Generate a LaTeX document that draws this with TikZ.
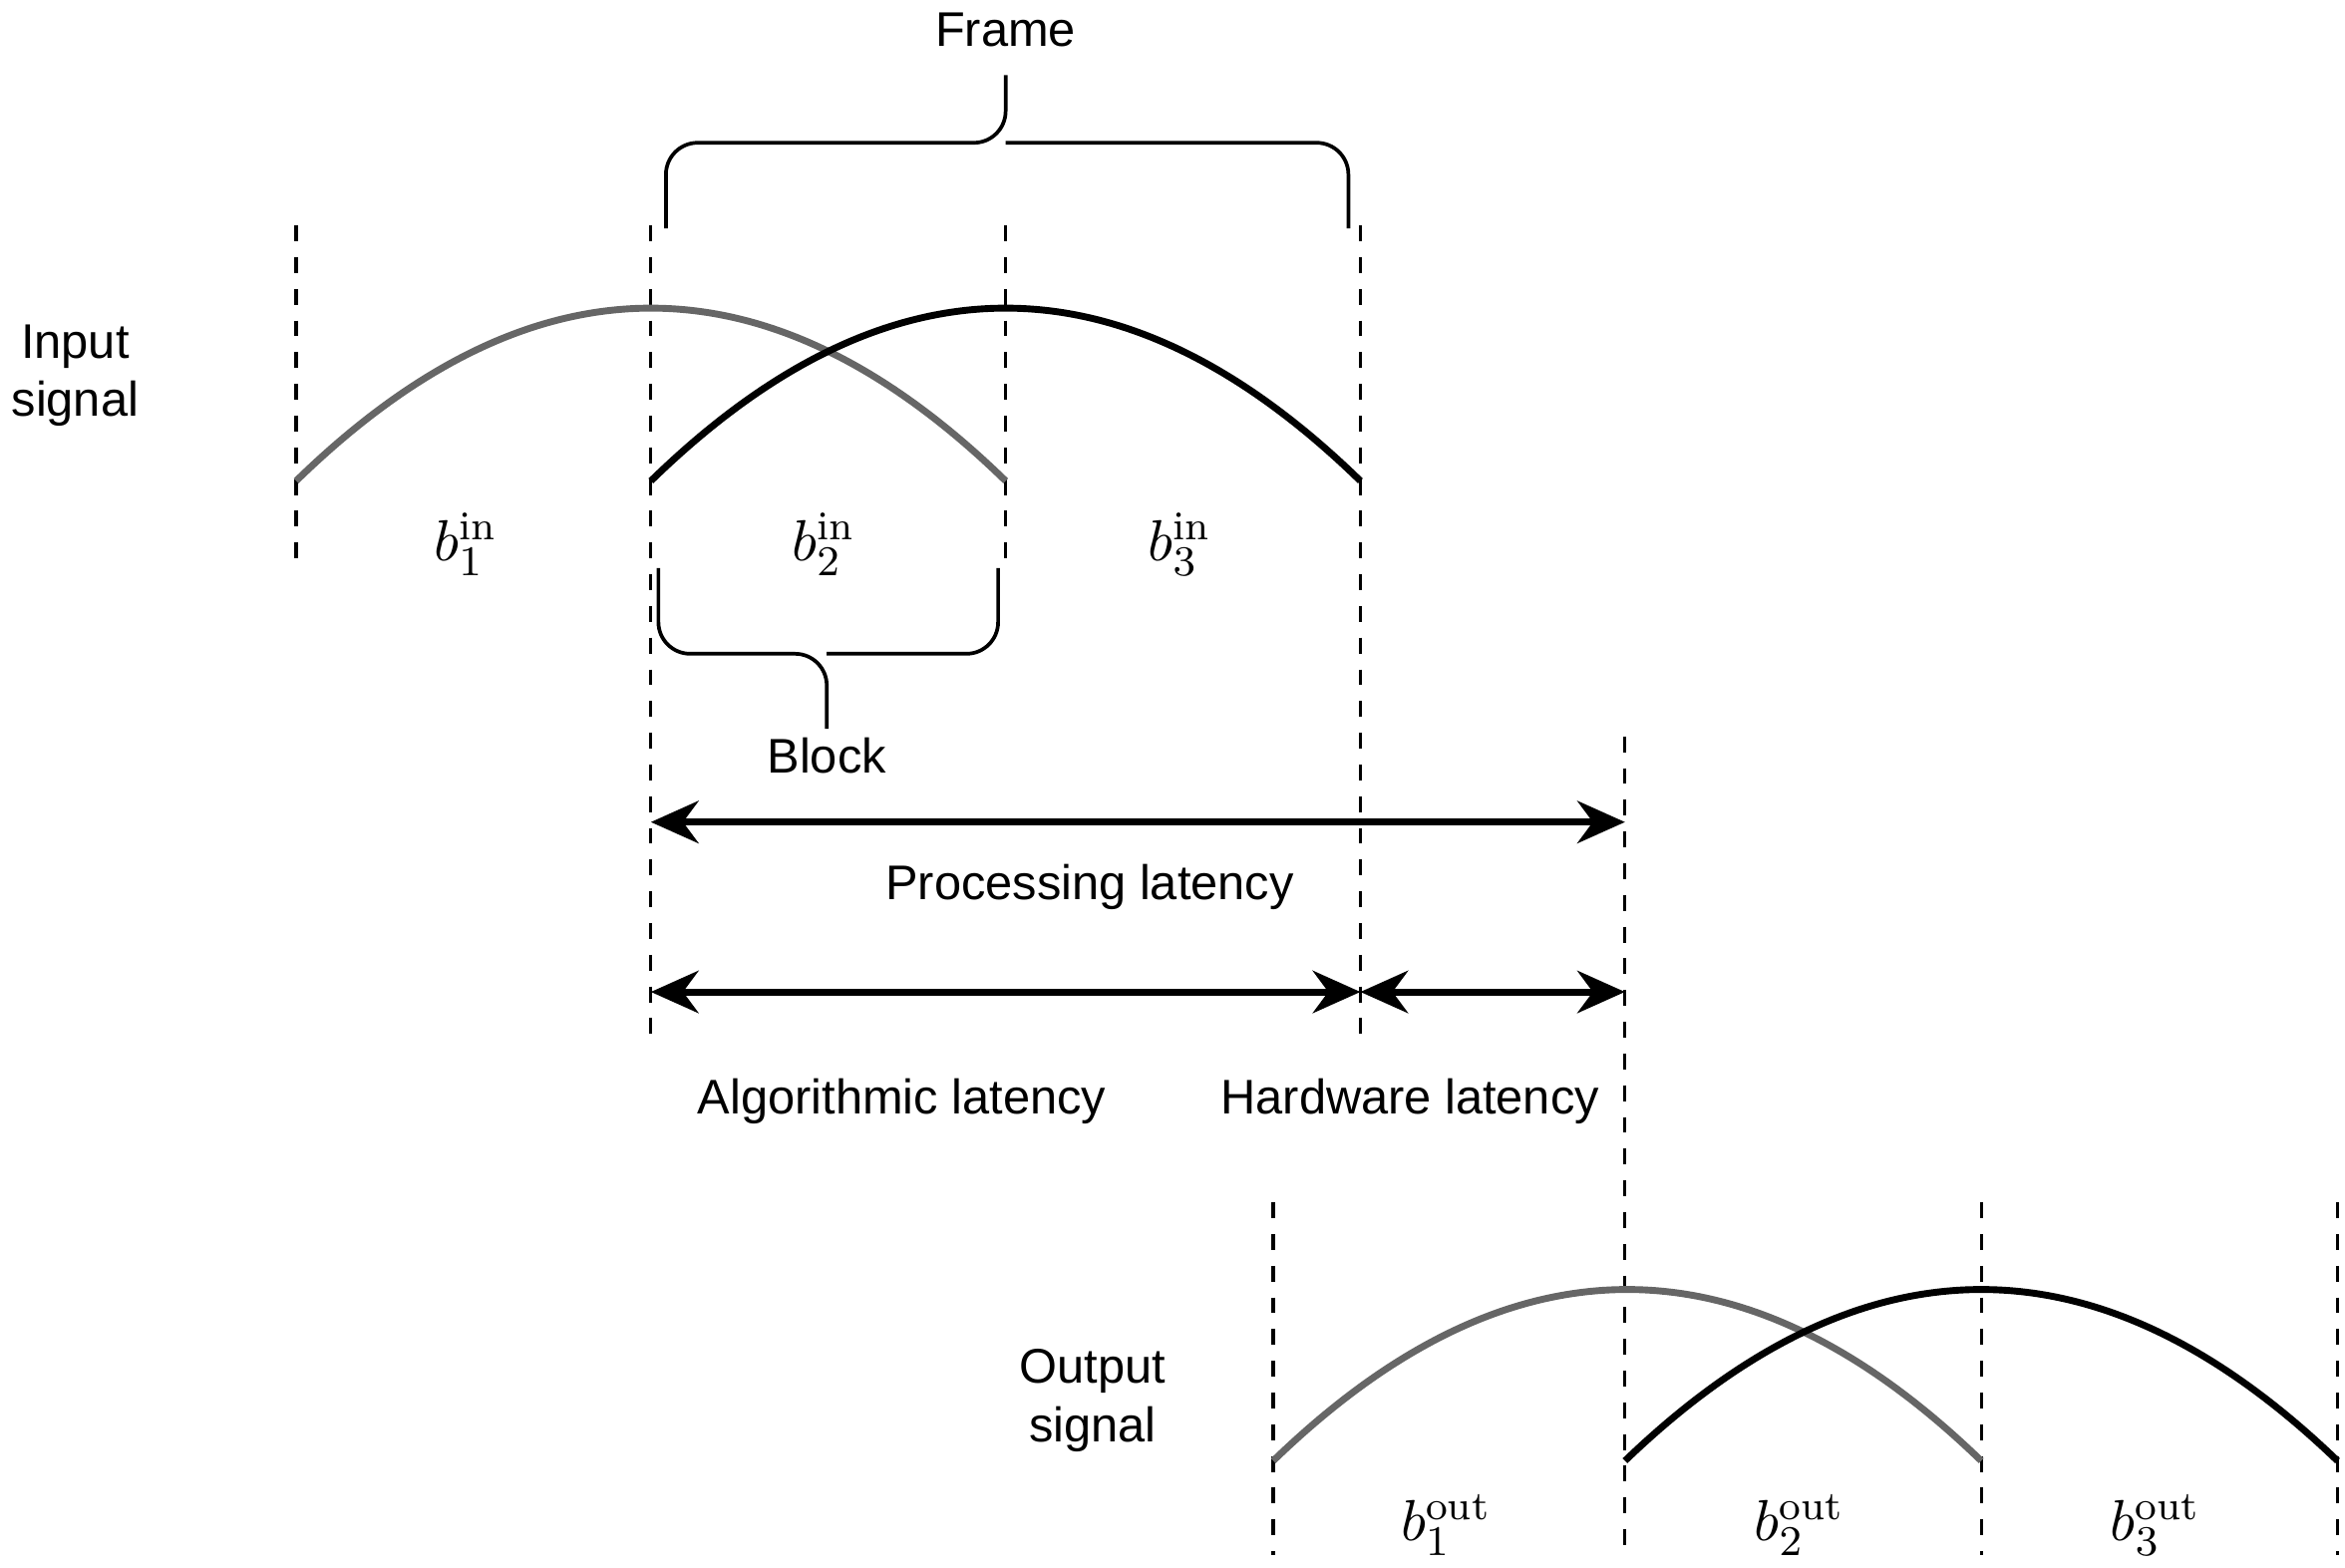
\documentclass[tikz,border=0pt]{standalone}
\usepackage{fontspec}
\setmainfont{Liberation Sans}
\setmathrm{Latin Modern Roman}
\usetikzlibrary{arrows.meta}
\begin{document}
\begin{tikzpicture}[x=0.01cm,y=-0.01cm,
  dsh/.style={line width=0.6pt,dash pattern=on 3pt off 3pt},
  gw/.style={line width=1.3pt,color=black!60},
  bw/.style={line width=1.3pt},
  br/.style={line width=0.7pt,rounded corners=6pt},
  arr/.style={line width=1.3pt,{Stealth[length=9pt,width=8pt]}-{Stealth[length=9pt,width=8pt]}},
  lbl/.style={font=\fontsize{9.2}{11}\selectfont,align=center},
  ml/.style={font=\fontsize{11}{13}\selectfont}]
\useasboundingbox (0,0) rectangle (1560,1043);
% dashed
\draw[dsh] (197,150)--(197,378);
\draw[dsh] (433,150)--(433,690);
\draw[dsh] (669,150)--(669,378);
\draw[dsh] (905,150)--(905,690);
\draw[dsh] (1081,490)--(1081,1035);
\draw[dsh] (847,800)--(847,1035);
\draw[dsh] (1318,800)--(1318,1035);
\draw[dsh] (1555,800)--(1555,1035);
% arcs
\coordinate (g1s) at (197,320); \coordinate (g1e) at (669,320);
\draw[gw] (g1s) .. controls (354.3,166.7) and (511.7,166.7) .. (g1e);
\coordinate (k1s) at (433,320); \coordinate (k1e) at (905,320);
\draw[bw] (k1s) .. controls (590.3,166.7) and (747.7,166.7) .. (k1e);
\coordinate (g2s) at (847,972); \coordinate (g2e) at (1318,972);
\draw[gw] (g2s) .. controls (1004,820) and (1161,820) .. (g2e);
\coordinate (k2s) at (1081,972); \coordinate (k2e) at (1555,972);
\draw[bw] (k2s) .. controls (1239,820) and (1397,820) .. (k2e);
% labels
\node[ml] (bi1) at (310,362) {$b_1^{\mathrm{in}}$};
\node[ml] (bi2) at (548,362) {$b_2^{\mathrm{in}}$};
\node[ml] (bi3) at (785,362) {$b_3^{\mathrm{in}}$};
\node[ml] (bo1) at (962,1015) {$b_1^{\mathrm{out}}$};
\node[ml] (bo2) at (1197,1015) {$b_2^{\mathrm{out}}$};
\node[ml] (bo3) at (1434,1015) {$b_3^{\mathrm{out}}$};
% braces
\draw[br] (443,152)--(443,95)--(669,95)--(669,50);
\draw[br] (897,152)--(897,95)--(669,95);
\draw[br] (438,378)--(438,435)--(550,435)--(550,485);
\draw[br] (664,378)--(664,435)--(550,435);
\node[lbl] (frame) at (669,20) {Frame};
\node[lbl] (block) at (550,503) {Block};
% arrows
\coordinate (p1) at (433,547); \coordinate (p2) at (1081,547);
\coordinate (a1) at (433,660); \coordinate (a2) at (905,660); \coordinate (a3) at (1081,660);
\draw[arr] (p1)--(p2);
\draw[arr] (a1)--(a2);
\draw[arr] (a2)--(a3);
\node[lbl] (pl) at (725,590) {Processing latency};
\node[lbl] (al) at (600,733) {Algorithmic latency};
\node[lbl] (hl) at (938,733) {Hardware latency};
\node[lbl] (in) at (50,250) {Input\\signal};
\node[lbl] (out) at (727,932) {Output\\signal};
\end{tikzpicture}
\end{document}
